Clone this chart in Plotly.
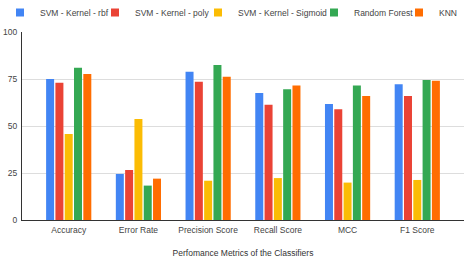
import plotly.graph_objects as go

categories = ["Accuracy", "Error Rate", "Precision Score", "Recall Score", "MCC", "F1 Score"]
svm_rbf = [75.0, 24.5, 78.9, 67.5, 61.7, 72.2]
svm_poly = [73.0, 26.6, 73.6, 61.3, 58.9, 66.0]
svm_sigmoid = [45.7, 53.7, 20.9, 22.3, 19.9, 21.3]
random_forest = [81.0, 18.3, 82.4, 69.5, 71.6, 74.5]
knn = [77.7, 22.0, 76.2, 71.6, 66.0, 74.1]

series_names = ["SVM - Kernel - rbf", "SVM - Kernel - poly", "SVM - Kernel - Sigmoid",
                "Random Forest", "KNN"]
series_values = [svm_rbf, svm_poly, svm_sigmoid, random_forest, knn]
colors = ["#4285F4", "#EA4335", "#FBBC04", "#34A853", "#FF6D01"]
# legend entry left edges (pixels in the 474 px wide page)
legend_px = [-3, 95, 198, 314, 399]

W, H = 474, 259
fs = 8.5
font = "Liberation Sans, Arial, sans-serif"

fig = go.Figure()
for i, (name, vals, color) in enumerate(zip(series_names, series_values, colors)):
    fig.add_trace(go.Bar(x=categories, y=vals, name=name, marker_color=color,
                         marker_line_width=0, showlegend=False))
    lg = "legend" if i == 0 else f"legend{i+1}"
    fig.add_trace(go.Scatter(x=[None], y=[None], mode="markers", name=name,
                             marker=dict(symbol="square", size=8, color=color),
                             legend=lg, showlegend=True, hoverinfo="skip"))

legend_common = dict(orientation="h", xref="container", yref="container",
                     xanchor="left", yanchor="middle", y=1 - 12.5 / H,
                     font=dict(size=fs, color="#444444", family=font),
                     bgcolor="rgba(0,0,0,0)", borderwidth=0, itemwidth=30)

layout_legends = {}
for i, px in enumerate(legend_px):
    key = "legend" if i == 0 else f"legend{i+1}"
    layout_legends[key] = dict(legend_common, x=px / W)

fig.update_layout(
    width=W, height=H,
    margin=dict(l=22, r=10, t=32, b=39, autoexpand=False),
    paper_bgcolor="white", plot_bgcolor="white",
    barmode="group", bargap=0.333, bargroupgap=0.14,
    font=dict(family=font, size=fs, color="#444444"),
    xaxis=dict(title=dict(text="Perfomance Metrics of the Classifiers",
                          font=dict(size=fs, color="#333333"), standoff=15),
               range=[-0.67, 5.67],
               showline=True, linecolor="#333333", linewidth=1,
               tickfont=dict(size=fs, color="#444444"), ticks="",
               ticklabelstandoff=2),
    yaxis=dict(range=[0, 100], tickvals=[0, 25, 50, 75, 100],
               showgrid=True, gridcolor="#dddddd", gridwidth=1,
               showline=True, linecolor="#333333", linewidth=1,
               zeroline=False, ticks="", tickfont=dict(size=fs, color="#444444"),
               ticklabelstandoff=2),
    **layout_legends,
)

fig.write_html("out.html")
